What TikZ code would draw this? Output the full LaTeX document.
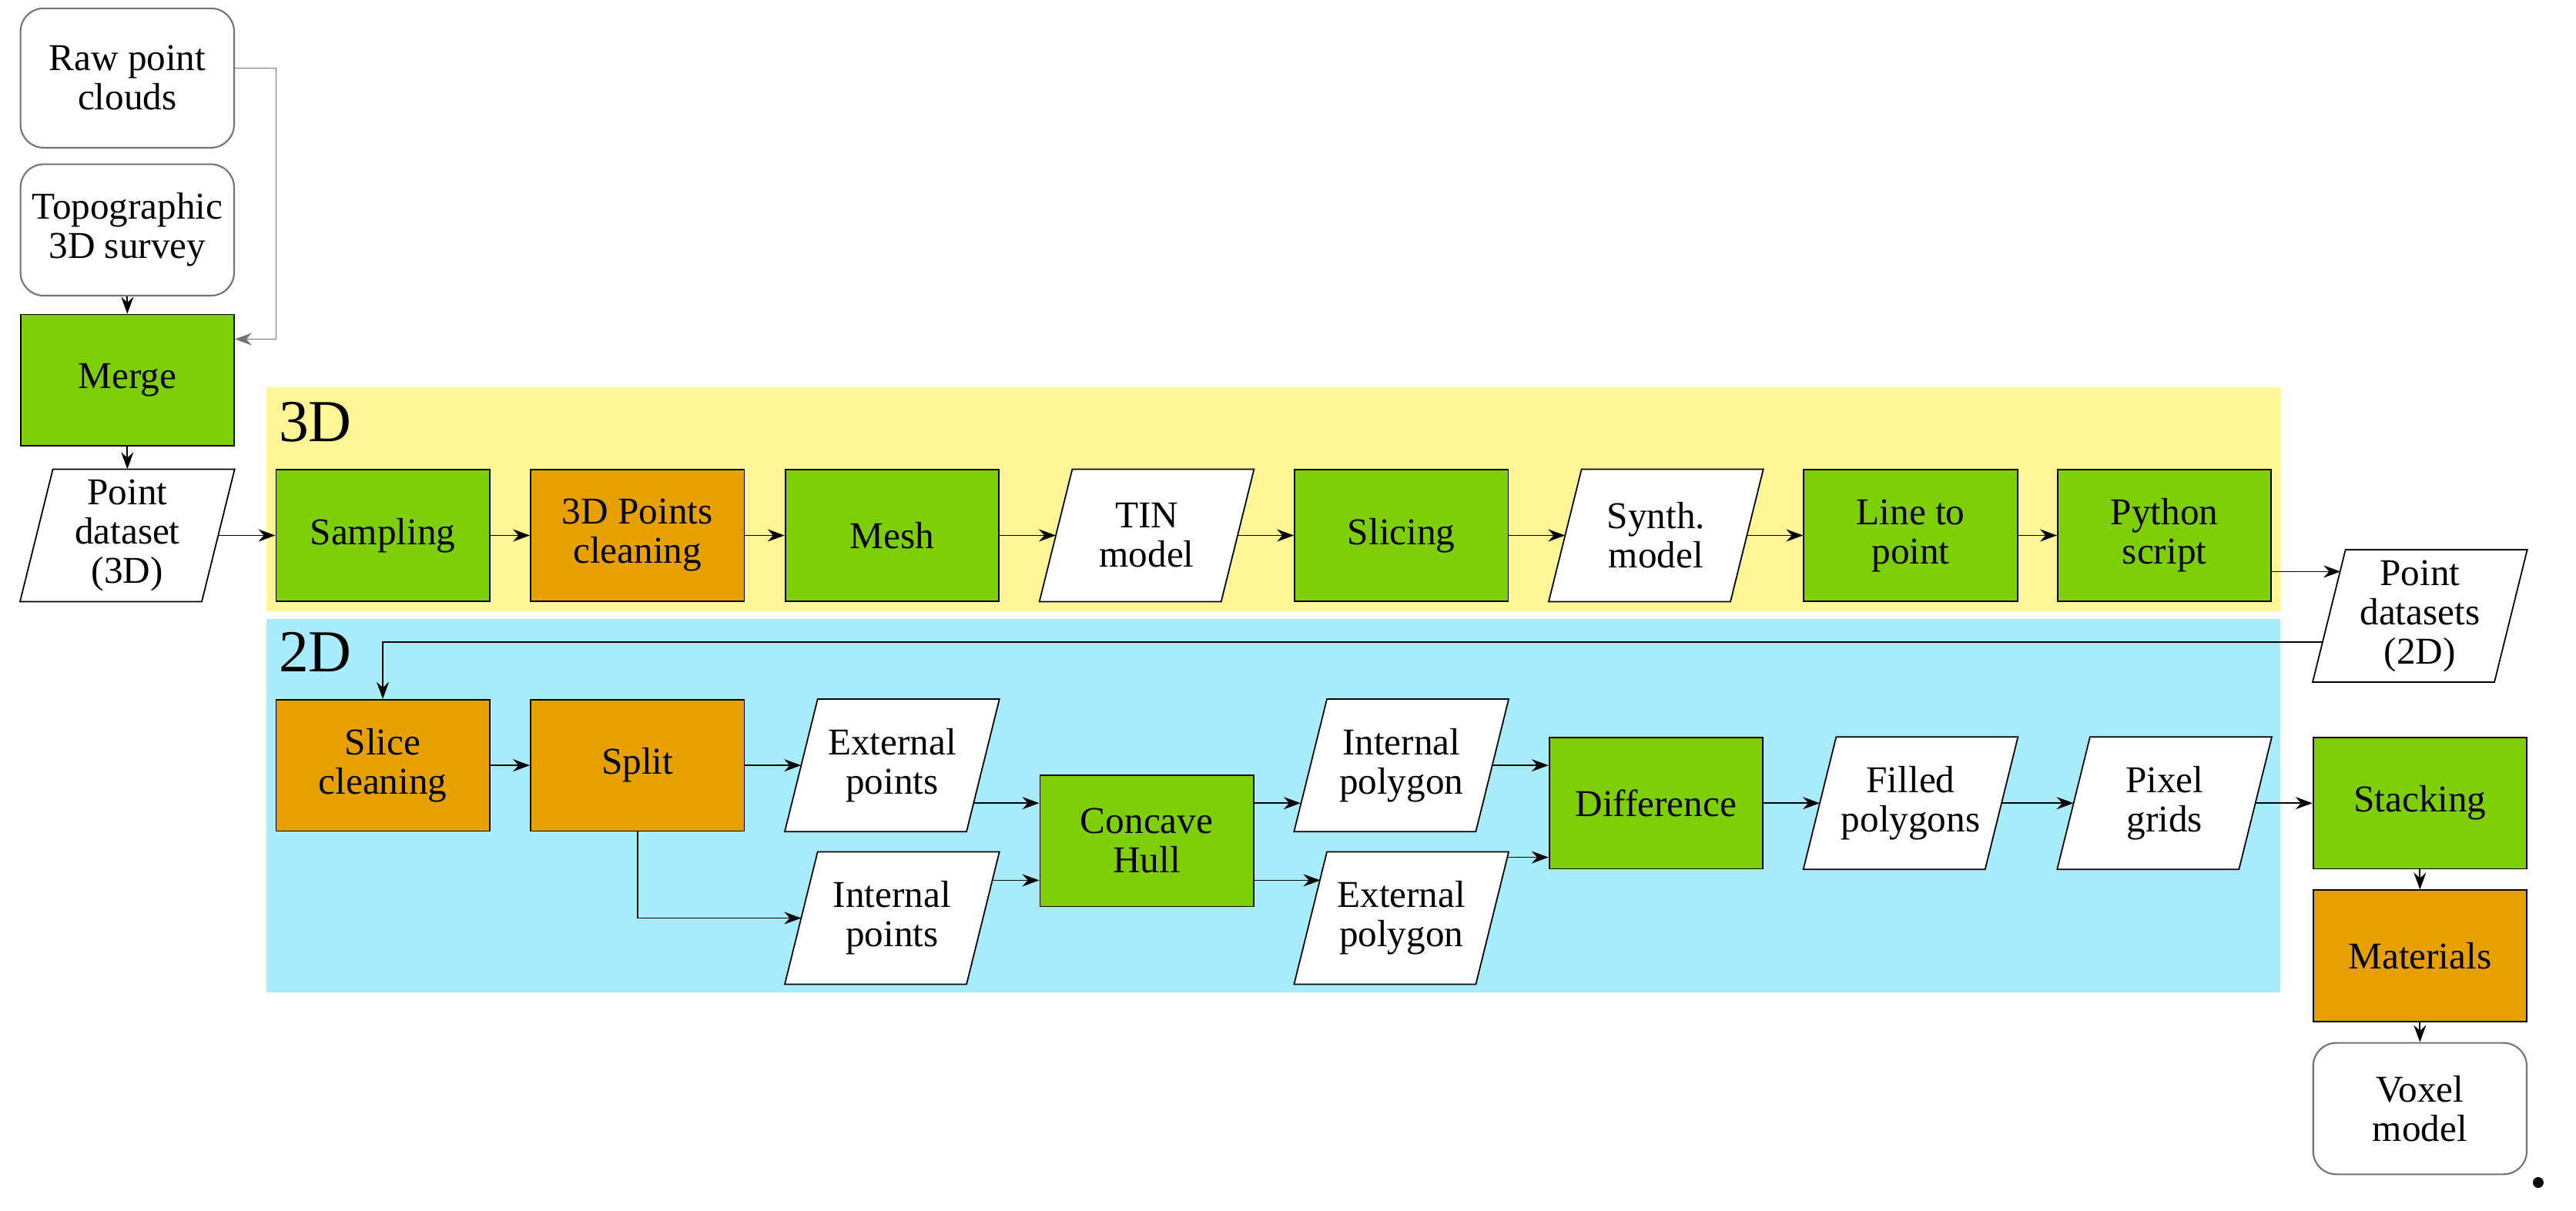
\documentclass[tikz,border=0pt]{standalone}
\usepackage{fontspec}
\setmainfont{Liberation Serif}
\usetikzlibrary{calc,arrows.meta}
\definecolor{gr}{RGB}{126,206,8}
\definecolor{og}{RGB}{230,161,0}
\definecolor{ye}{RGB}{255,245,150}
\definecolor{bl}{RGB}{168,236,252}
\begin{document}
\begin{tikzpicture}[x=0.2133mm,y=-0.2133mm,
  base/.style={minimum width=27.73mm,minimum height=17.06mm,align=center,inner sep=1pt,font=\fontsize{14}{14.5}\selectfont},
  proc/.style={base,draw=black,line width=0.5pt,fill=gr},
  proco/.style={proc,fill=og},
  term/.style={base,draw=black!55,line width=0.6pt,rounded corners=3mm,fill=white},
  para/.style={base,minimum width=23.46mm},
  ar/.style={-{Stealth[length=2.2mm,width=1.6mm]},line width=0.5pt},
  lab/.style={font=\fontsize{22}{22}\selectfont,anchor=west}]
\useasboundingbox (0,0) rectangle (1568,737);
\fill[ye] (162,236) rectangle (1388,372);
\fill[bl] (162,377) rectangle (1388,604);
\node[lab] (l3) at (164,257) {3D};
\node[lab] (l2) at (164,397) {2D};
% nodes
\node[term,minimum height=18.1mm] (raw) at (77.5,47.5) {Raw point\\clouds};
\node[term] (topo) at (77.5,140) {Topographic\\3D survey};
\node[proc] (merge) at (77.5,231.5) {Merge};
\node[para] (pd) at (77.5,326) {Point\\dataset\\(3D)};
\node[proc] (samp) at (233,326) {Sampling};
\node[proco] (clean) at (388,326) {3D Points\\cleaning};
\node[proc] (mesh) at (543,326) {Mesh};
\node[para] (tin) at (698,326) {TIN\\model};
\node[proc] (slic) at (853,326) {Slicing};
\node[para] (synth) at (1008,326) {Synth.\\model};
\node[proc] (line) at (1163,326) {Line to\\point};
\node[proc] (py) at (1317.5,326) {Python\\script};
\node[para] (pd2) at (1473,375) {Point\\datasets\\(2D)};
\node[proco] (sc) at (233,466) {Slice\\cleaning};
\node[proco] (split) at (388,466) {Split};
\node[para] (ext) at (543,466) {External\\points};
\node[para] (intp) at (543,559) {Internal\\points};
\node[proc] (hull) at (698,512) {Concave\\Hull};
\node[para] (ipoly) at (853,466) {Internal\\polygon};
\node[para] (epoly) at (853,559) {External\\polygon};
\node[proc] (diff) at (1008,489) {Difference};
\node[para] (filled) at (1163,489) {Filled\\polygons};
\node[para] (pixel) at (1317.5,489) {Pixel\\grids};
\node[proc] (stack) at (1473,489) {Stacking};
\node[proco] (mat) at (1473,582) {Materials};
\node[term] (vox) at (1473,675) {Voxel\\model};
\fill (1545,720) circle (0.7mm);
% parallelogram outlines
\foreach \n in {pd,tin,synth,pd2,ext,intp,ipoly,epoly,filled,pixel}{
  \filldraw[fill=white,draw=black,line width=0.5pt] ($(\n.south west)+(-10,0)$) -- ($(\n.north west)+(10,0)$) -- ($(\n.north east)+(10,0)$) -- ($(\n.south east)+(-10,0)$) -- cycle;
  \node[base,minimum width=0pt] at (\n) {};
}
% re-place texts on top
\node[base,minimum width=0pt] at (pd) {Point\\dataset\\(3D)};
\node[base,minimum width=0pt] at (tin) {TIN\\model};
\node[base,minimum width=0pt] at (synth) {Synth.\\model};
\node[base,minimum width=0pt] at (pd2) {Point\\datasets\\(2D)};
\node[base,minimum width=0pt] at (ext) {External\\points};
\node[base,minimum width=0pt] at (intp) {Internal\\points};
\node[base,minimum width=0pt] at (ipoly) {Internal\\polygon};
\node[base,minimum width=0pt] at (epoly) {External\\polygon};
\node[base,minimum width=0pt] at (filled) {Filled\\polygons};
\node[base,minimum width=0pt] at (pixel) {Pixel\\grids};
% connectors
\draw[ar,draw=black!55] ($(raw.east)+(0,-6)$) -- ++(25,0) |- ($(merge.east)+(0,-25)$);
\draw[ar] (topo) -- (merge);
\draw[ar] (merge) -- (pd);
\draw[ar] (pd) -- (samp);
\draw[ar] (samp) -- (clean);
\draw[ar] (clean) -- (mesh);
\draw[ar] (mesh) -- (tin);
\draw[ar] (tin) -- (slic);
\draw[ar] (slic) -- (synth);
\draw[ar] (synth) -- (line);
\draw[ar] (line) -- (py);
\draw[ar] ($(py.east)+(0,22)$) coordinate (p1) -- ($(p1 -| pd2.west)+(7,0)$);
\draw[ar] ($(pd2.west)+(-4,16)$) -| (sc.north);
\draw[ar] (sc) -- (split);
\draw[ar] (split) -- (ext);
\draw[ar] (split.south) |- (intp.west);
\draw[ar] ($(ext.east)+(-6,23)$) coordinate (e1) -- (e1 -| hull.west);
\draw[ar] ($(intp.east)+(6,-23)$) coordinate (e2) -- (e2 -| hull.west);
\draw[ar] ($(hull.east)+(0,-23)$) coordinate (h1) -- ($(h1 -| ipoly.west)+(-6,0)$);
\draw[ar] ($(hull.east)+(0,24)$) coordinate (h2) -- ($(h2 -| epoly.west)+(6,0)$);
\draw[ar] (ipoly.east) coordinate (i1) -- (i1 -| diff.west);
\draw[ar] ($(epoly.east)+(9,-37)$) coordinate (i2) -- (i2 -| diff.west);
\draw[ar] (diff) -- (filled);
\draw[ar] (filled) -- (pixel);
\draw[ar] (pixel) -- (stack);
\draw[ar] (stack) -- (mat);
\draw[ar] (mat) -- (vox);
\end{tikzpicture}
\end{document}
